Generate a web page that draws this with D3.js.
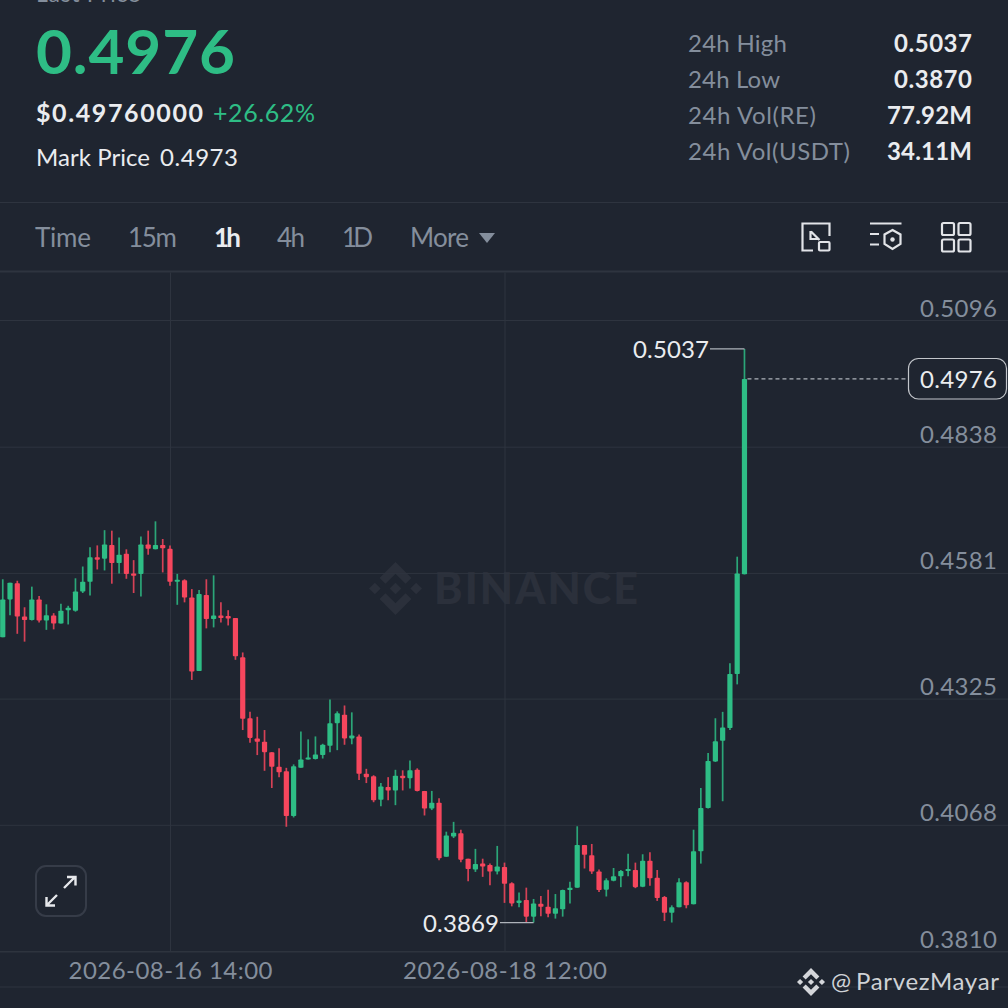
<!DOCTYPE html>
<html><head><meta charset="utf-8">
<script src="https://cdn.jsdelivr.net/npm/d3@7/dist/d3.min.js"></script>
<style>html,body{margin:0;padding:0;background:#1f2530;overflow:hidden}svg{display:block}text{font-family:Lato,Inter,sans-serif}</style>
</head><body><svg id="c" width="1008" height="1008"></svg>
<script>
const opens=[.4450,.4527,.4560,.4492,.4485,.4527,.4484,.4494,.4478,.4505,.4504,.4543,.4563,.4613,.4610,.4638,.4601,.4620,.4580,.4579,.4639,.4629,.4638,.4630,.4563,.4566,.4531,.4381,.4536,.4487,.4494,.4493,.4489,.4409,.4285,.4244,.4237,.4216,.4186,.4177,.4086,.4184,.4201,.4202,.4210,.4229,.4275,.4292,.4244,.4248,.4172,.4167,.4119,.4145,.4138,.4168,.4163,.4180,.4137,.4101,.4113,.4003,.4044,.4051,.3999,.3977,.3989,.3986,.3973,.3982,.3949,.3909,.3915,.3881,.3907,.3901,.3887,.3896,.3935,.3940,.4027,.4006,.3973,.3936,.3954,.3963,.3974,.3976,.3942,.3995,.3960,.3921,.3889,.3900,.3951,.3906,.4014,.4102,.4197,.4239,.4265,.4375,.4578];
const highs=[.4568,.4561,.4565,.4511,.4553,.4534,.4517,.4499,.4518,.4514,.4570,.4594,.4633,.4637,.4668,.4667,.4653,.4629,.4607,.4655,.4667,.4686,.4650,.4637,.4579,.4568,.4548,.4546,.4568,.4576,.4521,.4505,.4489,.4419,.4298,.4288,.4261,.4216,.4224,.4184,.4191,.4258,.4242,.4248,.4233,.4323,.4299,.4311,.4297,.4252,.4182,.4169,.4153,.4165,.4180,.4179,.4199,.4183,.4137,.4137,.4122,.4054,.4074,.4058,.3999,.4019,.3999,.3989,.4025,.3991,.3951,.3930,.3940,.3917,.3923,.3936,.3927,.3936,.3952,.4065,.4027,.4029,.3977,.3959,.3980,.3976,.4009,.3991,.4008,.4012,.3976,.3923,.3904,.3959,.3953,.4058,.4143,.4214,.4285,.4298,.4397,.4614,.5037];
const lows=[.4450,.4495,.4457,.4441,.4484,.4480,.4465,.4466,.4478,.4476,.4502,.4540,.4535,.4588,.4586,.4559,.4580,.4569,.4540,.4533,.4618,.4629,.4582,.4555,.4516,.4521,.4363,.4381,.4468,.4470,.4480,.4474,.4404,.4261,.4235,.4210,.4178,.4143,.4165,.4064,.4083,.4184,.4201,.4201,.4203,.4216,.4220,.4231,.4232,.4159,.4153,.4114,.4106,.4118,.4108,.4138,.4142,.4136,.4087,.4098,.3996,.4003,.4041,.3992,.3953,.3972,.3962,.3945,.3967,.3909,.3902,.3900,.3870,.3869,.3882,.3880,.3877,.3881,.3908,.3940,.3979,.3968,.3931,.3922,.3953,.3941,.3963,.3939,.3941,.3944,.3913,.3872,.3869,.3900,.3898,.3906,.3989,.4101,.4196,.4116,.4261,.4354,.4578];
const closes=[.4527,.4561,.4492,.4485,.4527,.4484,.4495,.4478,.4504,.4510,.4543,.4563,.4613,.4608,.4639,.4601,.4618,.4579,.4575,.4639,.4630,.4638,.4631,.4563,.4567,.4531,.4380,.4538,.4487,.4494,.4489,.4488,.4411,.4284,.4245,.4237,.4216,.4186,.4175,.4086,.4187,.4201,.4205,.4211,.4231,.4275,.4295,.4244,.4250,.4172,.4165,.4118,.4146,.4138,.4168,.4163,.4179,.4137,.4101,.4113,.4000,.4046,.4052,.3997,.3978,.3988,.3983,.3973,.3983,.3948,.3908,.3914,.3881,.3908,.3901,.3887,.3898,.3935,.3940,.4027,.4007,.3973,.3935,.3955,.3963,.3974,.3978,.3941,.3995,.3959,.3919,.3889,.3900,.3951,.3904,.4014,.4102,.4198,.4238,.4266,.4375,.4580,.4976];
const firstCandle=new Date(Date.UTC(2026,7,15,15));
const priceTicks=[.5096,.4838,.4581,.4325,.4068,.3810];
const timeTicks=[new Date(Date.UTC(2026,7,16,14)),new Date(Date.UTC(2026,7,18,12))];
const lastPrice=.4976, highPrice=.5037, lowPrice=.3869;
const timeframes=["Time","15m","1h","4h","1D","More"];
const statNames=["24h High","24h Low","24h Vol(RE)","24h Vol(USDT)"];
const statValues=["0.5037","0.3870","77.92M","34.11M"];

const GREEN="#2ebd85",RED="#f6465d",BG="#1f2530",LINE="#2e343f",GREY="#848e9c",LIGHT="#eaecef";
const svg=d3.select("#c");
svg.append("rect").attr("width",1008).attr("height",1008).attr("fill",BG);
const txt=(x,y,s,size,fill,weight,len,anchor)=>{const t=svg.append("text").attr("x",x).attr("y",y).text(s).attr("font-size",size).attr("fill",fill).attr("font-weight",weight||400).attr("text-anchor",anchor||"start");if(len)t.attr("textLength",len);return t;};

// header
txt(36,2,"Last Price",23,GREY,400,104);
txt(36,74,"0.4976",62,GREEN,700,199);
txt(36,122,"$0.49760000",25,LIGHT,700,167);
txt(213,122,"+26.62%",25,GREEN,400,102);
txt(36,166,"Mark Price",24,LIGHT,400,114);
txt(160,166,"0.4973",24,LIGHT,400,78);
const statNameW=[99,92,128,162], statValW=[78,78,85,85];
statNames.forEach((n,i)=>{txt(688,52+36*i,n,24,GREY,400,statNameW[i]);txt(972-statValW[i],52+36*i,statValues[i],24,LIGHT,700,statValW[i]);});

// toolbar
const hline=(y,w)=>svg.append("line").attr("x1",0).attr("x2",1008).attr("y1",y).attr("y2",y).attr("stroke",LINE).attr("stroke-width",w||1);
hline(202.5);hline(271.5,2);hline(951.5);hline(987);
const tfX=[35,128,214,277,342,410], tfW=[56,49,27,28,31,59];
timeframes.forEach((t,i)=>txt(tfX[i],247,t,26,t==="1h"?LIGHT:GREY,t==="1h"?700:400,tfW[i]));
svg.append("path").attr("d","M479 233h16l-8 10z").attr("fill",GREY);
const icon=svg.append("g").attr("fill","none").attr("stroke","#e2e4e8").attr("stroke-width",2.2);
icon.append("path").attr("d","M813 250.5H802.5V223.5H829.5V236M819 239H810.5V231M811 231.5L819.5 240");
icon.append("rect").attr("x",819).attr("y",242).attr("width",10.5).attr("height",8.5).attr("rx",1);
icon.append("path").attr("d","M870 223.5H901.5M870 234H879M870 244.5H879");
icon.append("path").attr("d","M892.5 230L900.5 234.5V244L892.5 249L884.5 244V234.5Z");
icon.append("circle").attr("cx",892.5).attr("cy",239.5).attr("r",2.2).attr("fill","#e2e4e8").attr("stroke","none");
[[942,223],[958.5,223],[942,239.5],[958.5,239.5]].forEach(p=>icon.append("rect").attr("x",p[0]).attr("y",p[1]).attr("width",12).attr("height",12).attr("rx",1.5));

// watermark and logo
const logoParts=[[[0,-50],[30,-20],[19,-9],[0,-28],[-19,-9],[-30,-20]],[[0,50],[30,20],[19,9],[0,28],[-19,9],[-30,20]],[[-50,0],[-39,-11],[-28,0],[-39,11]],[[50,0],[39,-11],[28,0],[39,11]],[[0,-11],[11,0],[0,11],[-11,0]]];
const logo=(cx,cy,h,fill)=>logoParts.forEach(p=>svg.append("polygon").attr("points",p.map(q=>[cx+q[0]*h/50,cy+q[1]*h/50].join(",")).join(" ")).attr("fill",fill));
logo(395.5,588.5,26.5,"#2b303b");
txt(434,604,"BINANCE",43,"#2b303b",900,204);

// scales and axes
const y=d3.scaleLinear().domain([.3810,.5096]).range([951.5,320]);
const x=d3.scaleUtc().domain(timeTicks).range([170,504.5]);
const candles=opens.map((o,i)=>({t:d3.utcHour.offset(firstCandle,i),o,h:highs[i],l:lows[i],c:closes[i]}));

const ya=svg.append("g").call(d3.axisRight(y).tickValues(priceTicks).tickSize(1008).tickFormat(d3.format(".4f")));
ya.select(".domain").remove();
ya.selectAll("line").attr("stroke",LINE);
ya.selectAll("text").attr("x",997).attr("dy",-4).attr("text-anchor","end").attr("font-size",24).attr("textLength",77).attr("fill",GREY).attr("font-family","Lato,Inter,sans-serif");
const xa=svg.append("g").attr("transform","translate(0,951.5)").call(d3.axisBottom(x).tickValues(timeTicks).tickSize(-679).tickFormat(d3.utcFormat("%Y-%m-%d %H:%M")));
xa.select(".domain").remove();
xa.selectAll("line").attr("stroke",LINE);
xa.selectAll("text").attr("y",27).attr("dy",0).attr("font-size",24).attr("textLength",204).attr("fill",GREY).attr("font-family","Lato,Inter,sans-serif");

// candles
const cg=svg.append("g").selectAll("g").data(candles).join("g");
const col=d=>d.c>=d.o?GREEN:RED;
cg.append("line").attr("x1",d=>x(d.t)).attr("x2",d=>x(d.t)).attr("y1",d=>y(d.h)).attr("y2",d=>y(d.l)).attr("stroke",col).attr("stroke-width",1.7).attr("stroke-opacity",.85);
cg.append("rect").attr("x",d=>x(d.t)-2.6).attr("width",5.2).attr("y",d=>y(Math.max(d.o,d.c))).attr("height",d=>Math.max(2,Math.abs(y(d.o)-y(d.c)))).attr("rx",.8).attr("fill",col);

// markers
const ann="#aeb3ba";
const xL=x(candles[candles.length-1].t);
const xLow=x(candles[lows.indexOf(lowPrice)].t);
svg.append("path").attr("d",`M710 ${y(highPrice)}H${xL}`).attr("stroke",ann).attr("stroke-width",1.3).attr("fill","none");
txt(633,358,"0.5037",24,LIGHT,400,76);
svg.append("path").attr("d",`M500 ${y(lowPrice)}H${xLow}`).attr("stroke",ann).attr("stroke-width",1.3).attr("fill","none");
txt(423,932,"0.3869",24,LIGHT,400,76);
svg.append("line").attr("x1",xL+3).attr("x2",906).attr("y1",y(lastPrice)).attr("y2",y(lastPrice)).attr("stroke",ann).attr("stroke-width",1.2).attr("stroke-dasharray","4 3");
svg.append("rect").attr("x",908.5).attr("y",358.5).attr("width",98).attr("height",40.5).attr("rx",10).attr("fill",BG).attr("stroke","#c3c6cb").attr("stroke-width",1.2);
txt(920,388,"0.4976",24,LIGHT,400,77);

// expand button
svg.append("rect").attr("x",36).attr("y",866).attr("width",50).attr("height",50).attr("rx",10).attr("fill",BG).attr("stroke","#363c48").attr("stroke-width",2);
svg.append("path").attr("d","M64 888L75 877M67 877H75.5V885.5M57 895L46.5 905.5M46.5 897V905.5H55").attr("fill","none").attr("stroke","#e6e8eb").attr("stroke-width",2.4);

// signature
logo(811,982,14,"#d4d6da");
txt(831,990,"@",24,"#cfd2d6");
txt(856,990,"ParvezMayar",24,"#cfd2d6",400,143);
</script></body></html>
